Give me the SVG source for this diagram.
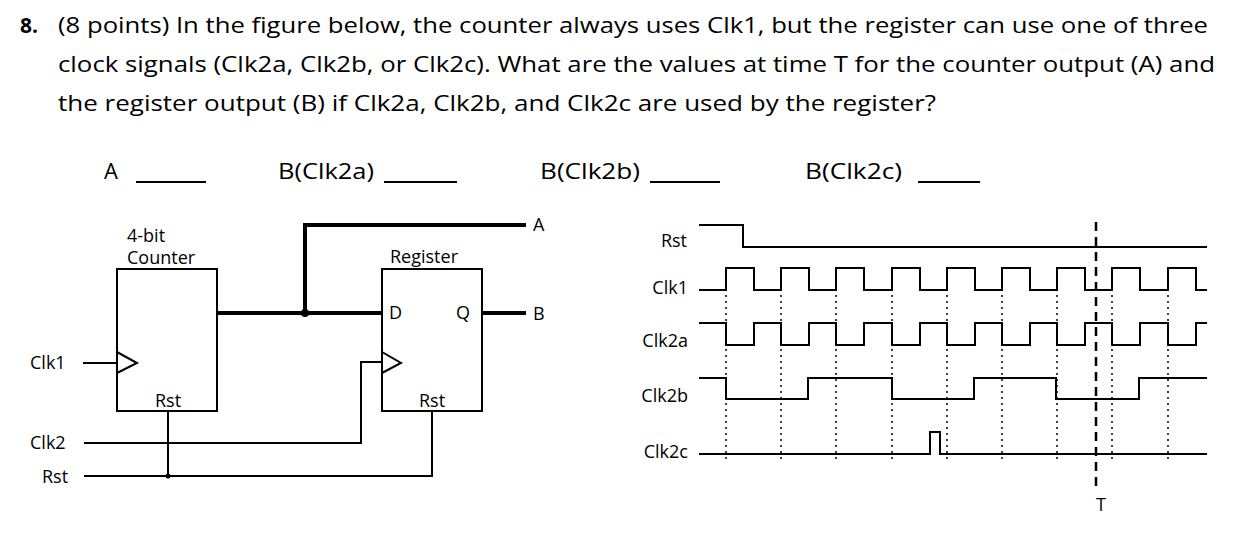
<svg xmlns="http://www.w3.org/2000/svg" width="1256" height="534" viewBox="0 0 1256 534">
<style>
text{font-family:"Open Sans","Liberation Sans",sans-serif;fill:#000}
.h{font-size:21px}.l{font-size:18px}.a{font-size:22px}
.w{fill:none;stroke:#000;stroke-width:2}
.bus{fill:none;stroke:#000;stroke-width:4}
.dot{stroke:#000;stroke-width:1.5;stroke-dasharray:2 4}
</style>
<rect width="1256" height="534" fill="#fff"/>
<text class="h" x="20" y="33" font-weight="bold">8.</text>
<text class="h" x="58" y="33" textLength="1150" lengthAdjust="spacingAndGlyphs">(8 points) In the figure below, the counter always uses Clk1, but the register can use one of three</text>
<text class="h" x="58" y="72" textLength="1157" lengthAdjust="spacingAndGlyphs">clock signals (Clk2a, Clk2b, or Clk2c). What are the values at time T for the counter output (A) and</text>
<text class="h" x="58" y="111" textLength="878" lengthAdjust="spacingAndGlyphs">the register output (B) if Clk2a, Clk2b, and Clk2c are used by the register?</text>
<g class="a">
<text x="104" y="179">A</text>
<text x="278" y="179" textLength="96" lengthAdjust="spacingAndGlyphs">B(Clk2a)</text>
<text x="540" y="179" textLength="100" lengthAdjust="spacingAndGlyphs">B(Clk2b)</text>
<text x="805" y="179" textLength="97" lengthAdjust="spacingAndGlyphs">B(Clk2c)</text>
</g>
<g class="w"><path d="M136 182H206M384 182H457M650 182H720M918 182H980"/></g>

<g id="counter">
<rect class="w" x="117" y="269" width="100" height="142"/>
<path class="w" d="M117 352L137 363L117 373"/>
<text class="l" x="127" y="242">4-bit</text>
<text class="l" x="127" y="264">Counter</text>
<text class="l" x="168" y="407" text-anchor="middle">Rst</text>
</g>
<g id="register">
<rect class="w" x="382" y="269" width="100" height="142"/>
<path class="w" d="M382 352L401 363L382 373"/>
<text class="l" x="390" y="263">Register</text>
<text class="l" x="389" y="319">D</text>
<text class="l" x="456" y="319">Q</text>
<text class="l" x="432" y="407" text-anchor="middle">Rst</text>
</g>
<g id="labels" class="l">
<text x="30" y="369">Clk1</text>
<text x="30" y="449">Clk2</text>
<text x="42" y="483">Rst</text>
<text x="533" y="231">A</text>
<text x="533" y="320">B</text>
</g>
<g id="connectors">
<path class="bus" d="M217 313H382M305 313V225H526M482 313H526"/>
<circle cx="305" cy="313" r="4"/>
<path class="w" d="M83 363H117M84 443H361V362H382M84 476H432V411M168 411V476"/>
<circle cx="168" cy="476" r="2.5"/>
</g>

<g id="waveforms">
<g class="l" text-anchor="end">
<text x="687" y="247">Rst</text>
<text x="688" y="294">Clk1</text>
<text x="688" y="347">Clk2a</text>
<text x="688" y="402">Clk2b</text>
<text x="688" y="458">Clk2c</text>
<text x="1101" y="511" text-anchor="middle">T</text>
</g>
<g class="dot">
<path d="M726 295V460M781 295V460M836 295V460M892 295V460M947 295V460M1002 295V460M1057 295V460M1112 295V460M1168 295V460"/>
</g>
<path d="M1096 222V490" stroke="#000" stroke-width="2.5" stroke-dasharray="9 6"/>
<path class="w" d="M699 225H743V247H1207"/>
<path class="w" d="M699 290H726V268H754V290H781V268H809V290H836V268H864V290H892V268H920V290H947V268H975V290H1002V268H1030V290H1057V268H1085V290H1112V268H1140V290H1168V268H1196V290H1207"/>
<path class="w" d="M699 323H726V345H754V323H781V345H809V323H836V345H864V323H892V345H920V323H947V345H975V323H1002V345H1030V323H1057V345H1085V323H1112V345H1140V323H1168V345H1196V323H1207"/>
<path class="w" d="M699 378H726V399H808V378H892V399H974V378H1056V399H1139V378H1207"/>
<path class="w" d="M699 454H930V432H940V454H1207"/>
</g>
</svg>
